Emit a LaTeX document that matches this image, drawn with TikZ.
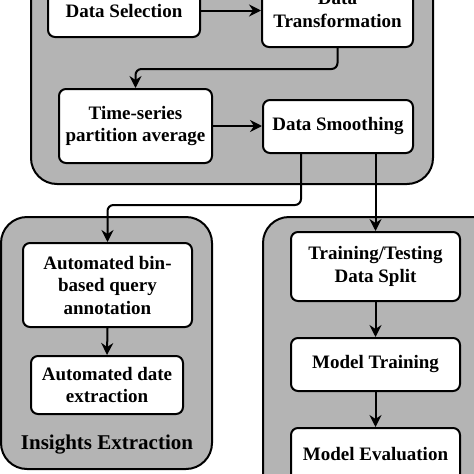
\documentclass[tikz,border=0pt]{standalone}
\usepackage{fontspec}
\setmainfont{Liberation Serif}
\usetikzlibrary{arrows.meta,calc}
\definecolor{boxgray}{RGB}{180,180,180}
\begin{document}
\begin{tikzpicture}[x=1pt,y=-1pt,
  container/.style={draw=black, line width=2pt, fill=boxgray, rounded corners=26pt},
  stepbox/.style={draw=black, line width=2pt, fill=white, rounded corners=7pt, inner sep=0pt, align=center, font=\bfseries\fontsize{19}{22.5}\selectfont},
  conn/.style={line width=2pt, -{Stealth[length=12pt,width=12pt,inset=4pt]}, rounded corners=6pt},
  grouplabel/.style={font=\bfseries\fontsize{21}{24}\selectfont, inner sep=0pt}]
\useasboundingbox (0,0) rectangle (474,474);
\clip (0,0) rectangle (474,474);
% containers
\draw[container] (31,-60) rectangle (433,184);
\draw[container] (1,217) rectangle (212,469);
\draw[container] (263,217) rectangle (520,540);
% nodes
\node[stepbox, minimum width=152pt, minimum height=53pt] (sel) at (124,10.5) {Data Selection};
\node[stepbox, minimum width=151pt, minimum height=74pt] (trans) at (337.5,10) {Data\\Transformation};
\node[stepbox, minimum width=153pt, minimum height=74pt] (ts) at (135.5,126) {Time-series\\partition average};
\node[stepbox, minimum width=150pt, minimum height=53pt] (smooth) at (338,126.5) {Data Smoothing};
\node[stepbox, minimum width=169pt, minimum height=84pt] (bin) at (107.5,285) {Automated bin-\\based query\\annotation};
\node[stepbox, minimum width=152pt, minimum height=58pt] (date) at (107,385) {Automated date\\extraction};
\node[stepbox, minimum width=169pt, minimum height=69pt] (split) at (375.5,266.5) {Training/Testing\\Data Split};
\node[stepbox, minimum width=169pt, minimum height=53pt] (mtrain) at (375.5,364.5) {Model Training};
\node[stepbox, minimum width=169pt, minimum height=53pt] (meval) at (375.5,454.5) {Model Evaluation};
\node[grouplabel] (ie) at (107,445) {Insights Extraction};
% connectors
\draw[conn] (sel.east) -- (sel.east -| trans.west);
\draw[conn] (trans.south) -- ++(0,21) -| (ts.north);
\draw[conn] (ts.east) -- (ts.east -| smooth.west);
\coordinate (s1) at ($(smooth.south)+(-37,0)$);
\draw[conn] (s1) -- ++(0,51) -| (bin.north);
\draw[conn] (smooth.south -| split.north) -- (split.north);
\draw[conn] (bin.south) -- (date.north);
\draw[conn] (split.south) -- (mtrain.north);
\draw[conn] (mtrain.south) -- (meval.north);
\end{tikzpicture}
\end{document}
